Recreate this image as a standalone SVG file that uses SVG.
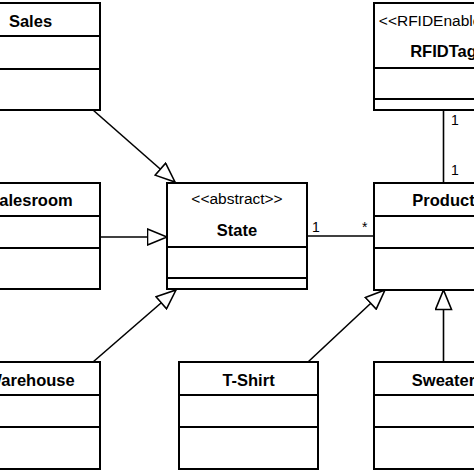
<svg xmlns="http://www.w3.org/2000/svg" width="474" height="474" viewBox="0 0 474 474">
<style>
.box{fill:#fff;stroke:#000;stroke-width:2}
.div{stroke:#000;stroke-width:2}
.name{font-family:"Liberation Sans",Arial,sans-serif;font-weight:bold;font-size:16.5px;text-anchor:middle;fill:#000}
.st{font-family:"Liberation Sans",Arial,sans-serif;font-size:15.5px;text-anchor:middle;fill:#000}
.mul{font-family:"Liberation Sans",Arial,sans-serif;font-size:14px;fill:#000}
.con{stroke:#000;stroke-width:1.6;fill:none}
</style>
<defs>
<marker id="gen" viewBox="0 0 22 18" refX="20.5" refY="9" markerWidth="22" markerHeight="18" markerUnits="userSpaceOnUse" orient="auto">
<path d="M1,1 L20.5,9 L1,17 Z" fill="#fff" stroke="#000" stroke-width="1.6"/>
</marker>
</defs>
<rect width="474" height="474" fill="#fff"/>
<g id="connectors">
<line class="con" x1="93" y1="110" x2="175" y2="182" marker-end="url(#gen)"/>
<line class="con" x1="100" y1="237" x2="167" y2="237" marker-end="url(#gen)"/>
<line class="con" x1="93" y1="362" x2="176" y2="290" marker-end="url(#gen)"/>
<line class="con" x1="308" y1="362" x2="385" y2="290" marker-end="url(#gen)"/>
<line class="con" x1="443.5" y1="362" x2="443.5" y2="290" marker-end="url(#gen)"/>
<line class="con" x1="307" y1="236" x2="374" y2="236"/>
<line class="con" x1="443.5" y1="110" x2="443.5" y2="183"/>
<text class="mul" x="312" y="232">1</text>
<text class="mul" x="362" y="232">*</text>
<text class="mul" x="451" y="125">1</text>
<text class="mul" x="451" y="175">1</text>
</g>
<g id="sales">
<rect class="box" x="-39" y="3" width="139" height="107"/>
<line class="div" x1="-39" y1="36" x2="100" y2="36"/>
<line class="div" x1="-39" y1="69" x2="100" y2="69"/>
<text class="name" x="30.5" y="27">Sales</text>
</g>
<g id="salesroom">
<rect class="box" x="-39" y="183" width="139" height="106"/>
<line class="div" x1="-39" y1="216" x2="100" y2="216"/>
<line class="div" x1="-39" y1="248" x2="100" y2="248"/>
<text class="name" x="30.5" y="206">Salesroom</text>
</g>
<g id="warehouse">
<rect class="box" x="-39" y="362" width="139" height="107"/>
<line class="div" x1="-39" y1="395" x2="100" y2="395"/>
<line class="div" x1="-39" y1="427" x2="100" y2="427"/>
<text class="name" x="30.5" y="386">Warehouse</text>
</g>
<g id="state">
<rect class="box" x="167" y="183" width="140" height="106"/>
<line class="div" x1="167" y1="247" x2="307" y2="247"/>
<line class="div" x1="167" y1="278" x2="307" y2="278"/>
<text class="st" x="237" y="204">&lt;&lt;abstract&gt;&gt;</text>
<text class="name" x="237" y="236">State</text>
</g>
<g id="rfidtag">
<rect class="box" x="374" y="3" width="139" height="107"/>
<line class="div" x1="374" y1="68" x2="513" y2="68"/>
<line class="div" x1="374" y1="99" x2="513" y2="99"/>
<text class="st" x="443.5" y="26">&lt;&lt;RFIDEnabled&gt;&gt;</text>
<text class="name" x="443.5" y="57">RFIDTag</text>
</g>
<g id="product">
<rect class="box" x="374" y="183" width="139" height="107"/>
<line class="div" x1="374" y1="216" x2="513" y2="216"/>
<line class="div" x1="374" y1="248" x2="513" y2="248"/>
<text class="name" x="443.5" y="206">Product</text>
</g>
<g id="tshirt">
<rect class="box" x="179" y="362" width="139" height="107"/>
<line class="div" x1="179" y1="395" x2="318" y2="395"/>
<line class="div" x1="179" y1="427" x2="318" y2="427"/>
<text class="name" x="248.5" y="386">T-Shirt</text>
</g>
<g id="sweater">
<rect class="box" x="374" y="362" width="139" height="107"/>
<line class="div" x1="374" y1="395" x2="513" y2="395"/>
<line class="div" x1="374" y1="427" x2="513" y2="427"/>
<text class="name" x="443.5" y="386">Sweater</text>
</g>
</svg>
